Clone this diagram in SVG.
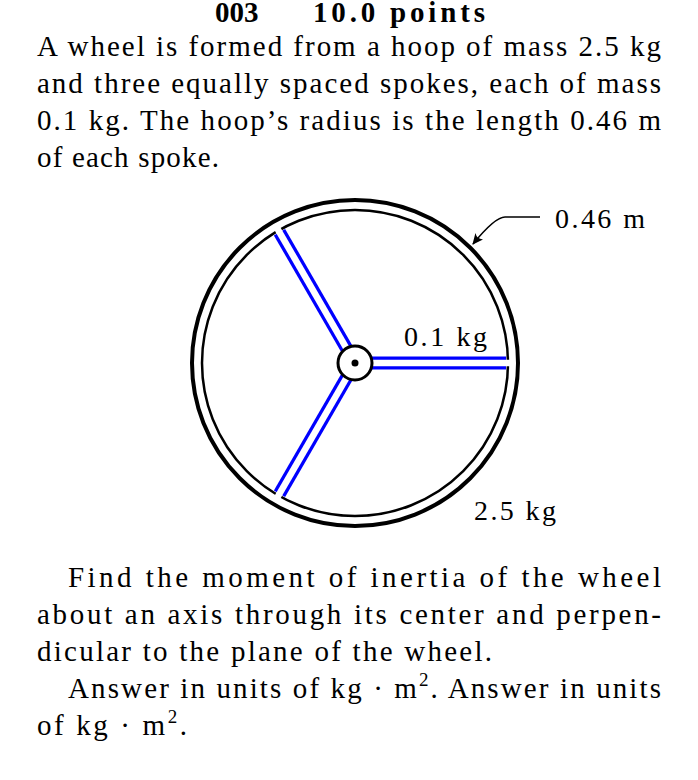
<svg xmlns="http://www.w3.org/2000/svg" width="698" height="780" viewBox="0 0 698 780">
<style>
text{font-family:"Liberation Serif","DejaVu Serif",serif;fill:#000}
.p{font-size:29px}
.l{font-size:28px}
.blue{stroke:#0000ff;stroke-width:13;fill:none}
.gap{stroke:#fff;stroke-width:6.5;fill:none}
</style>
<defs><marker id="ah" markerWidth="12" markerHeight="10" refX="10" refY="5" orient="auto" markerUnits="userSpaceOnUse"><path d="M0,0 Q4,5 0,10 L11,5 Z" fill="#000"/></marker></defs>
<g id="text">
<text class="p" x="215" y="22" font-weight="bold">003</text>
<text class="p" x="313" y="22" font-weight="bold" textLength="172">10.0 points</text>
<text class="p" x="37" y="56" textLength="624" lengthAdjust="spacing">A wheel is formed from a hoop of mass 2.5 kg</text>
<text class="p" x="37" y="93" textLength="624" lengthAdjust="spacing">and three equally spaced spokes, each of mass</text>
<text class="p" x="37" y="130" textLength="624" lengthAdjust="spacing">0.1 kg.  The hoop’s radius is the length 0.46 m</text>
<text class="p" x="37" y="167" textLength="182" lengthAdjust="spacing">of each spoke.</text>
<text class="p" x="68" y="587" textLength="593" lengthAdjust="spacing">Find the moment of inertia of the wheel</text>
<text class="p" x="37" y="624" textLength="624" lengthAdjust="spacing">about an axis through its center and perpen-</text>
<text class="p" x="37" y="661" textLength="455" lengthAdjust="spacing">dicular to the plane of the wheel.</text>
<text class="p" x="68" y="698" textLength="593" lengthAdjust="spacing">Answer in units of  kg · m<tspan font-size="19" dy="-12">2</tspan><tspan dy="12">.  Answer in units</tspan></text>
<text class="p" x="37" y="735" textLength="150" lengthAdjust="spacing">of  kg · m<tspan font-size="19" dy="-12">2</tspan><tspan dy="12">.</tspan></text>
</g>
<g id="wheel">
<circle cx="355" cy="363" r="163" fill="none" stroke="#000" stroke-width="4"/>
<circle cx="355" cy="363" r="153" fill="none" stroke="#000" stroke-width="2.5"/>
</g>
<g id="spokes">
<g id="spoke1"><line class="blue" x1="355" y1="363" x2="506" y2="363"/><line class="gap" x1="355" y1="363" x2="512" y2="363"/></g>
<g id="spoke2" transform="rotate(-120 355 363)"><line class="blue" x1="355" y1="363" x2="506" y2="363"/><line class="gap" x1="355" y1="363" x2="512" y2="363"/></g>
<g id="spoke3" transform="rotate(120 355 363)"><line class="blue" x1="355" y1="363" x2="506" y2="363"/><line class="gap" x1="355" y1="363" x2="512" y2="363"/></g>
</g>
<g id="hub">
<circle cx="355" cy="363" r="17" fill="#fff" stroke="#000" stroke-width="3"/>
<circle cx="355" cy="363" r="3.5" fill="#000"/>
</g>
<g id="connectors">
<path d="M540,217 L505,217 Q495,217 473,244" fill="none" stroke="#000" stroke-width="1.5" marker-end="url(#ah)"/>
</g>
<g id="labels">
<text class="l" x="555" y="228" textLength="90">0.46 m</text>
<text class="l" x="404" y="346" textLength="83">0.1 kg</text>
<text class="l" x="474" y="520" textLength="82">2.5 kg</text>
</g>
</svg>
